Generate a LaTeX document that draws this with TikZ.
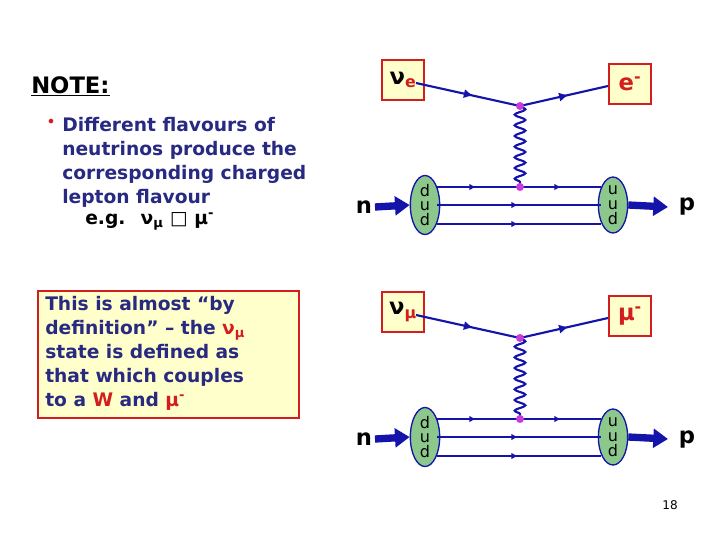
\documentclass[tikz,border=0pt]{standalone}
\usepackage{fontspec}
\setmainfont{DejaVu Sans}
\usetikzlibrary{decorations.pathmorphing,decorations.markings,arrows.meta,shapes.geometric}
\definecolor{navy}{RGB}{40,42,130}
\definecolor{lineblue}{RGB}{20,20,170}
\definecolor{boxfill}{RGB}{255,255,204}
\definecolor{boxred}{RGB}{210,30,30}
\definecolor{quarkgreen}{RGB}{140,200,140}
\definecolor{vtx}{RGB}{200,60,220}
\tikzset{
  txt/.style={anchor=north west,inner sep=0pt,font=\fontsize{14}{18}\selectfont\bfseries,text=navy,align=left},
  lbox/.style={draw=boxred,line width=1.5pt,fill=boxfill,minimum width=31pt,minimum height=30pt,inner sep=1pt,font=\fontsize{17}{20}\selectfont\bfseries},
  fermion/.style={draw=lineblue,line width=1.6pt,postaction={decorate},decoration={markings,mark=at position 0.55 with {\arrow{Latex[length=7pt,width=7pt]}}}},
  quark/.style={draw=lineblue,line width=1.3pt},
  qarrow/.style={lineblue,line width=1.3pt,-{Latex[length=5pt,width=5pt]}},
  photon/.style={draw=lineblue,line width=1.6pt,decorate,decoration={snake,amplitude=4pt,segment length=8pt}},
  hadron/.style={draw=lineblue,ellipse,fill=quarkgreen,line width=1pt,minimum width=22pt,minimum height=42pt,inner sep=0pt,font=\fontsize{12}{11}\selectfont,align=center},
  big/.style={draw=lineblue,line width=5.5pt,-{Triangle[length=11pt,width=14pt]}},
  hlabel/.style={font=\fontsize{17}{20}\selectfont\bfseries,inner sep=0pt},
  dot/.style={circle,fill=vtx,inner sep=0pt,minimum size=6pt}
}
\begin{document}
\begin{tikzpicture}[x=0.75pt,y=-0.75pt]
\useasboundingbox (0,0) rectangle (720,540);
% left text
\node[anchor=north west,inner sep=0pt,font=\fontsize{17}{20}\selectfont\bfseries] (note) at (31,76) {\underline{NOTE:}};
\node[anchor=north west,inner sep=0pt,text=boxred,font=\fontsize{12}{12}\selectfont] (bul) at (46,119) {•};
\node[txt] (t1) at (62,117) {Different flavours of\\neutrinos produce the\\corresponding charged\\lepton flavour};
\node[txt,text=black] (t2) at (85,212) {e.g.~ ν\textsubscript{μ} □ μ\textsuperscript{-}};
\node[draw=boxred,line width=1.5pt,fill=boxfill,minimum width=196pt,minimum height=95pt,anchor=north west] (nb) at (37,290) {};
\node[txt] (t3) at (45,296) {This is almost “by\\definition” – the \textcolor{boxred}{ν\textsubscript{μ}}\\state is defined as\\that which couples\\to a \textcolor{boxred}{W} and \textcolor{boxred}{μ\textsuperscript{-}}};
\node[anchor=south east,inner sep=0pt,font=\fontsize{9}{10}\selectfont] (pg) at (678,510) {18};
% diagrams
\foreach \d/\yo/\lo/\lep in {a/0/e/e,b/232/μ/μ}{
  \begin{scope}[yshift=-\yo*0.75pt]
  \node[lbox] (\d nu) at (403,80) {ν\textsubscript{\textcolor{boxred}{\lo}}};
  \node[lbox,text=boxred] (\d l) at (630,84) {\lep\textsuperscript{-}};
  \coordinate (\d s) at (416,83);
  \coordinate (\d t) at (608,86);
  \coordinate (\d v1) at (520,106);
  \coordinate (\d v2) at (520,187);
  \draw[fermion] (\d s) -- (\d v1);
  \draw[fermion] (\d v1) -- (\d t);
  \draw[photon] (\d v1) -- (\d v2);
  \node[hadron] (\d L) at (425,205) {d\\u\\d};
  \node[hadron] (\d R) at (613,205) {u\\u\\d};
  \foreach \yy in {187,205,224}{
    \draw[quark] (437,\yy) -- (601,\yy);
  }
  \draw[qarrow] (437,187) -- (476,187);
  \draw[qarrow] (520,187) -- (561,187);
  \draw[qarrow] (437,205) -- (518,205);
  \draw[qarrow] (437,224) -- (518,224);
  \node[dot] (\d d1) at (\d v1) {};
  \node[dot] (\d d2) at (\d v2) {};
  \node[hlabel] (\d n) at (364,207) {n};
  \node[hlabel] (\d p) at (687,207) {p};
  \draw[big] ([xshift=2pt]\d n.east) -- (\d L.west);
  \draw[big] (\d R.east) -- ([xshift=-8pt]\d p.west);
  \end{scope}
}
\end{tikzpicture}
\end{document}
